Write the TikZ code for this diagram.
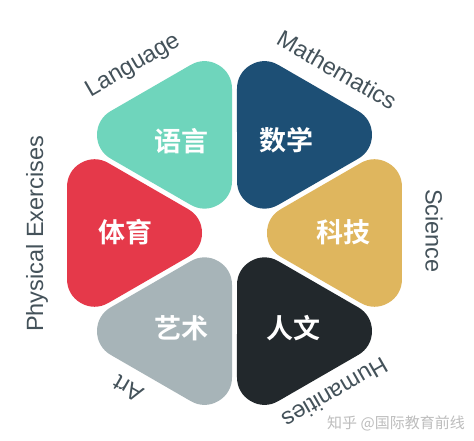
\documentclass[tikz,border=0pt]{standalone}
\usepackage{fontspec}
\usetikzlibrary{calc}
\setmainfont{Liberation Sans}
\newfontfamily\cjk{Noto Sans CJK SC Bold}
\newfontfamily\cjkl{Noto Sans CJK SC}
\definecolor{cteal}{HTML}{6FD5BC}
\definecolor{cblue}{HTML}{1D4F75}
\definecolor{cred}{HTML}{E5394A}
\definecolor{cgold}{HTML}{DFB65E}
\definecolor{cgrey}{HTML}{A7B4B8}
\definecolor{cblack}{HTML}{22282C}
\definecolor{labgrey}{HTML}{44525A}
\definecolor{wmgrey}{HTML}{BDBDBD}
\begin{document}
\begin{tikzpicture}[x=1pt,y=1pt,
  sector/.style={line width=55pt, line join=round},
  sub/.style={font=\fontsize{23.5}{24}\selectfont, text=labgrey, inner sep=0pt},
  zh/.style={font=\cjk\fontsize{27}{28}\selectfont, text=white, inner sep=0pt},
  wm/.style={font=\cjkl\fontsize{15}{16}\selectfont, text=wmgrey, inner sep=0pt}]
\fill[white] (0,0) rectangle (474,441);
\useasboundingbox (0,0) rectangle (474,441);
\coordinate (O) at (234.5,208);
\foreach \a/\c in {120/cteal,60/cblue,180/cred,0/cgold,240/cgrey,300/cblack}{
  \begin{scope}[shift={(O)},shift={(\a:5pt)}]
    \coordinate (G) at (\a:108.3pt);
    \coordinate (P1) at (0,0);
    \coordinate (P2) at (\a-30:187.6pt);
    \coordinate (P3) at (\a+30:187.6pt);
    \filldraw[\c, sector] ($(P1)!55pt!(G)$) -- ($(P2)!55pt!(G)$) -- ($(P3)!55pt!(G)$) -- cycle;
  \end{scope}
}
% Chinese labels
\node[zh] (yuyan) at (181,300) {语言};
\node[zh] (shuxue) at (286,301) {数学};
\node[zh] (tiyu) at (125,209) {体育};
\node[zh] (keji) at (343,209) {科技};
\node[zh] (yishu) at (181,113) {艺术};
\node[zh] (renwen) at (293,113) {人文};
% English labels
\node[sub, rotate=30] (lang) at (133,375) {Language};
\node[sub, rotate=-30] (math) at (337,371) {Mathematics};
\node[sub, rotate=90] (phys) at (37,207) {Physical Exercises};
\node[sub, rotate=-90] (sci) at (434,210) {Science};
\node[sub, rotate=150] (art) at (128,52) {Art};
\node[sub, rotate=210] (hum) at (335,48) {Humanities};
% watermark
\node[wm] (wmark) at (396,18) {知乎 @国际教育前线};
\end{tikzpicture}
\end{document}
